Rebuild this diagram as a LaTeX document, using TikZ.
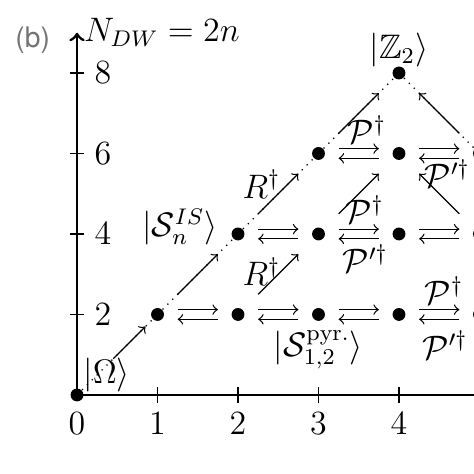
\documentclass[tikz,border=0pt]{standalone}
\usepackage{amssymb}
\usepackage{fontspec}
\newfontfamily\panelfont{TeX Gyre Heros}
\usetikzlibrary{calc}
\def\hop(#1)(#2){\draw[->] ($(#1)!0.25!(#2)+(0,0.06)$) -- ($(#1)!0.75!(#2)+(0,0.06)$); \draw[->] ($(#2)!0.25!(#1)-(0,0.06)$) -- ($(#2)!0.75!(#1)-(0,0.06)$);}
\def\climb(#1)(#2){\draw[->] ($(#1)!0.25!(#2)$) -- ($(#1)!0.75!(#2)$);}
\tikzset{dot/.style={circle, fill=black, inner sep=0pt, minimum size=0.16cm}}

\begin{document}
\begin{tikzpicture}[line width=0.45pt, font=\fontsize{12}{14}\selectfont]
			%%%%% START %%%%%
			\useasboundingbox (-0.957, -0.981) rectangle (4.932, 4.907);
			
			\node[text=black!55, font=\fontsize{10}{12}\selectfont] (panel) at (-0.55, 4.41) {\panelfont (b)};
			
			\draw[line width=1pt, ->] (0, 0) -- (0, 4.5) node[right, inner sep=2pt] (yname) {$N_{DW} = 2n$};
			\draw[line width=1pt] (0, 0) -- (5.6, 0);
			
			\draw[line width=0.6pt] (-0.09, 1) -- (0.09, 1) node[right] (y2) {$2$};
			\draw[line width=0.6pt] (-0.09, 2) -- (0.09, 2) node[right] (y4) {$4$};
			\draw[line width=0.6pt] (-0.09, 3) -- (0.09, 3) node[right] (y6) {$6$};
			\draw[line width=0.6pt] (-0.09, 4) -- (0.09, 4) node[right] (y8) {$8$};
			
			\node[below] (x0) at (0, -0.1) {$0$};
			\draw[line width=0.6pt] (1, -0.1) -- (1, 0.1); \node[below] (x1) at (1, -0.1) {$1$};
			\draw[line width=0.6pt] (2, -0.1) -- (2, 0.1); \node[below] (x2) at (2, -0.1) {$2$};
			\draw[line width=0.6pt] (3, -0.1) -- (3, 0.1); \node[below] (x3) at (3, -0.1) {$3$};
			\draw[line width=0.6pt] (4, -0.1) -- (4, 0.1); \node[below] (x4) at (4, -0.1) {$4$};
			
			\node[dot] (d00) at (0, 0) {};
			\node[dot] (d11) at (1, 1) {};
			\node[dot] (d21) at (2, 1) {};
			\node[dot] (d31) at (3, 1) {};
			\node[dot] (d41) at (4, 1) {};
			\node[dot] (d51) at (5, 1) {};
			\node[dot] (d22) at (2, 2) {};
			\node[dot] (d32) at (3, 2) {};
			\node[dot] (d42) at (4, 2) {};
			\node[dot] (d52) at (5, 2) {};
			\node[dot] (d33) at (3, 3) {};
			\node[dot] (d43) at (4, 3) {};
			\node[dot] (d53) at (5, 3) {};
			\node[dot] (d44) at (4, 4) {};
			
			\draw[dotted] (d00) -- (d11) -- (d22) -- (d33) -- (d44) -- (d53);
			
			\draw[->] ($(d00)!0.45!(d11)$) -- ($(d00)!0.85!(d11)$);
			\climb(d11)(d22)
			\climb(d22)(d33)
			\climb(d33)(d44)
			\climb(d21)(d32)
			\climb(d32)(d43)
			\climb(d53)(d44)
			\climb(d52)(d43)
			
			\hop(d11)(d21) \hop(d21)(d31) \hop(d31)(d41) \hop(d41)(d51)
			\hop(d22)(d32) \hop(d32)(d42) \hop(d42)(d52)
			\hop(d33)(d43) \hop(d43)(d53)
			
			\node (lOmega) at (0.37, 0.25) {$|\Omega\rangle$};
			\node (lIS) at (1.28, 2.09) {$|\mathcal{S}_n^{IS}\rangle$};
			\node (lZ) at (4.0, 4.29) {$|\mathbb{Z}_2\rangle$};
			\node (lpyr) at (3.0, 0.56) {$\bigl|\mathcal{S}^{\mathrm{pyr.}}_{1,2}\bigr\rangle$};
			
			\node (lR1) at (2.29, 1.53) {$R^\dagger$};
			\node (lR2) at (2.29, 2.62) {$R^\dagger$};
			\node (lP1) at (4.56, 1.3) {$\mathcal{P}^\dagger$};
			\node (lP2) at (3.57, 2.3) {$\mathcal{P}^\dagger$};
			\node (lP3) at (3.6, 3.3) {$\mathcal{P}^\dagger$};
			\node (lQ1) at (4.57, 0.62) {$\mathcal{P}'^\dagger$};
			\node (lQ2) at (3.58, 1.69) {$\mathcal{P}'^\dagger$};
			\node (lQ3) at (4.6, 2.75) {$\mathcal{P}'^\dagger$};
			%%%%% END %%%%%
\end{tikzpicture}
\end{document}
